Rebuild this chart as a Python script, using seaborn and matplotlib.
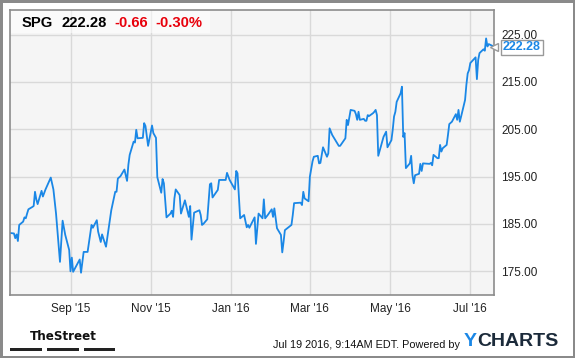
import pandas as pd
import matplotlib.pyplot as plt
import matplotlib.dates as mdates
from matplotlib.patches import Rectangle
import seaborn as sns

# SPG daily close
datas = [
    '2015-07-17', '2015-07-20', '2015-07-21', '2015-07-22', '2015-07-23', '2015-07-24',
    '2015-07-27', '2015-07-28', '2015-07-29', '2015-07-30', '2015-07-31', '2015-08-03',
    '2015-08-04', '2015-08-05', '2015-08-06', '2015-08-07', '2015-08-10', '2015-08-11',
    '2015-08-13', '2015-08-17', '2015-08-19', '2015-08-21', '2015-08-24', '2015-08-26',
    '2015-08-28', '2015-08-31', '2015-09-01', '2015-09-02', '2015-09-03', '2015-09-08',
    '2015-09-09', '2015-09-11', '2015-09-14', '2015-09-17', '2015-09-18', '2015-09-21',
    '2015-09-22', '2015-09-24', '2015-09-25', '2015-09-28', '2015-09-30', '2015-10-02',
    '2015-10-05', '2015-10-06', '2015-10-07', '2015-10-09', '2015-10-12', '2015-10-14',
    '2015-10-15', '2015-10-16', '2015-10-19', '2015-10-20', '2015-10-21', '2015-10-22',
    '2015-10-26', '2015-10-27', '2015-10-28', '2015-10-30', '2015-11-02', '2015-11-03',
    '2015-11-05', '2015-11-06', '2015-11-09', '2015-11-10', '2015-11-11', '2015-11-13',
    '2015-11-16', '2015-11-17', '2015-11-18', '2015-11-19', '2015-11-20', '2015-11-23',
    '2015-11-24', '2015-11-27', '2015-11-30', '2015-12-01', '2015-12-02', '2015-12-04',
    '2015-12-08', '2015-12-09', '2015-12-10', '2015-12-11', '2015-12-14', '2015-12-16',
    '2015-12-17', '2015-12-18', '2015-12-22', '2015-12-23', '2015-12-28', '2015-12-29',
    '2015-12-31', '2016-01-04', '2016-01-05', '2016-01-06', '2016-01-08', '2016-01-11',
    '2016-01-13', '2016-01-14', '2016-01-15', '2016-01-19', '2016-01-20', '2016-01-22',
    '2016-01-25', '2016-01-26', '2016-01-27', '2016-01-29', '2016-02-01', '2016-02-02',
    '2016-02-03', '2016-02-05', '2016-02-08', '2016-02-09', '2016-02-10', '2016-02-11',
    '2016-02-16', '2016-02-17', '2016-02-18', '2016-02-23', '2016-02-24', '2016-02-25',
    '2016-02-26', '2016-02-29', '2016-03-01', '2016-03-03', '2016-03-04', '2016-03-07',
    '2016-03-08', '2016-03-09', '2016-03-11', '2016-03-14', '2016-03-15', '2016-03-16',
    '2016-03-18', '2016-03-23', '2016-03-24', '2016-03-28', '2016-03-29', '2016-03-30',
    '2016-04-01', '2016-04-04', '2016-04-05', '2016-04-06', '2016-04-07', '2016-04-08',
    '2016-04-11', '2016-04-12', '2016-04-13', '2016-04-14', '2016-04-15', '2016-04-18',
    '2016-04-19', '2016-04-20', '2016-04-21', '2016-04-22', '2016-04-25', '2016-04-26',
    '2016-04-28', '2016-04-29', '2016-05-02', '2016-05-03', '2016-05-04', '2016-05-05',
    '2016-05-06', '2016-05-09', '2016-05-10', '2016-05-11', '2016-05-12', '2016-05-13',
    '2016-05-16', '2016-05-17', '2016-05-18', '2016-05-19', '2016-05-20', '2016-05-23',
    '2016-05-24', '2016-05-25', '2016-05-26', '2016-05-31', '2016-06-01', '2016-06-02',
    '2016-06-03', '2016-06-06', '2016-06-07', '2016-06-08', '2016-06-09', '2016-06-10',
    '2016-06-13', '2016-06-14', '2016-06-15', '2016-06-17', '2016-06-20', '2016-06-21',
    '2016-06-22', '2016-06-23', '2016-06-24', '2016-06-27', '2016-06-28', '2016-06-29',
    '2016-06-30', '2016-07-01', '2016-07-05', '2016-07-06', '2016-07-07', '2016-07-08',
    '2016-07-11', '2016-07-12', '2016-07-13', '2016-07-14', '2016-07-15', '2016-07-18',
    '2016-07-19',
]
precos = [
    183.1, 183.0, 182.0, 182.8, 181.4, 184.8,
    185.5, 186.4, 186.2, 187.2, 188.1, 188.6,
    188.8, 191.8, 190.2, 189.2, 192.0, 190.8,
    192.3, 194.8, 192.3, 187.2, 177.0, 185.7,
    182.7, 179.5, 175.0, 177.9, 174.9, 177.5,
    174.7, 179.1, 179.1, 184.8, 184.2, 185.8,
    183.4, 181.2, 182.8, 180.2, 184.1, 187.9,
    191.8, 191.8, 194.6, 195.1, 196.5, 194.1,
    197.5, 199.6, 202.4, 202.2, 204.9, 203.1,
    203.2, 206.3, 205.7, 201.5, 205.8, 204.2,
    203.2, 194.9, 191.6, 194.5, 193.6, 186.4,
    187.2, 187.8, 186.5, 190.4, 192.3, 191.1,
    187.2, 190.0, 186.5, 188.8, 181.7, 187.4,
    187.9, 186.9, 184.8, 185.0, 186.0, 193.4,
    193.6, 190.6, 192.2, 194.3, 194.3, 195.8,
    194.3, 192.3, 196.2, 195.7, 186.2, 186.9,
    184.3, 184.8, 184.2, 186.4, 180.8, 187.2,
    186.2, 190.2, 186.2, 186.9, 188.1, 186.5,
    188.3, 184.1, 182.7, 179.0, 181.2, 183.7,
    184.8, 186.9, 189.4, 189.5, 189.0, 191.8,
    190.4, 189.8, 195.0, 198.2, 199.2, 199.4,
    197.8, 197.9, 201.2, 199.2, 199.9, 205.2,
    203.8, 201.5, 201.5, 203.1, 207.0, 205.9,
    209.1, 208.9, 208.2, 207.0, 208.7, 207.0,
    207.2, 206.8, 206.8, 208.0, 207.8, 208.4,
    208.7, 209.1, 208.0, 199.4, 202.4, 203.4,
    204.5, 201.2, 202.7, 204.9, 207.7, 208.7,
    210.8, 212.6, 214.0, 203.4, 204.2, 196.8,
    197.8, 199.4, 195.3, 193.6, 195.3, 195.6,
    197.7, 196.2, 197.8, 197.7, 197.9, 197.4,
    199.6, 198.9, 198.9, 201.7, 200.3, 201.0,
    201.7, 203.8, 206.1, 206.6, 208.2, 207.0,
    209.1, 206.6, 207.7, 211.2, 214.4, 216.8,
    217.5, 219.0, 220.2, 215.6, 219.7, 221.1,
    221.9, 221.6, 224.2, 222.5, 223.0, 222.6,
    222.28,
]
ticks_y = [175, 185, 195, 205, 215, 225]

df = pd.DataFrame({'data': pd.to_datetime(datas), 'preco': precos})

sns.set_style('whitegrid', {'axes.facecolor': '#f5f5f5', 'grid.color': '#d9d9d9',
                            'axes.edgecolor': '#8c8c8c'})
plt.rcParams['font.family'] = ['Liberation Sans', 'DejaVu Sans']

W, H = 575, 358
fig = plt.figure(figsize=(W / 100, H / 100), dpi=100, linewidth=2.5, edgecolor='#8a8a8a')
ax = fig.add_axes([10 / W, (H - 295) / H, 484 / W, 285 / H])

sns.lineplot(data=df, x='data', y='preco', ax=ax, color='#1a87e6', linewidth=1.3)

ax.set_xlim(df['data'].min(), df['data'].max())
ax.set_ylim(170.0, 230.2)
ax.set_yticks(ticks_y)
ax.set_yticklabels([f'{v:.2f}' for v in ticks_y])
ax.yaxis.tick_right()
ax.xaxis.set_major_locator(mdates.MonthLocator(bymonth=[1, 3, 5, 7, 9, 11]))
ax.xaxis.set_major_formatter(mdates.DateFormatter("%b '%y"))
ax.tick_params(length=0, labelsize=8.5, colors='#222222')
ax.tick_params(axis='y', pad=5)
ax.tick_params(axis='x', pad=6)
ax.set_xlabel('')
ax.set_ylabel('')
ax.grid(True, linewidth=1)
for s in ax.spines.values():
    s.set_linewidth(1.2)


def px(x, y):
    return x / W, 1 - y / H


# header box with ticker and change
ax.add_patch(Rectangle(px(11, 33), 199 / W, 22 / H, transform=fig.transFigure,
                       facecolor='white', alpha=0.5, edgecolor='none', zorder=3))
fig.text(*px(22, 23), 'SPG', fontsize=10.6, fontweight='bold', va='center', color='black')
fig.text(*px(61, 23), '222.28', fontsize=10.6, fontweight='bold', va='center', color='black')
fig.text(*px(114, 23), '-0.66', fontsize=10.6, fontweight='bold', va='center', color='#e8000b')
fig.text(*px(155, 23), '-0.30%', fontsize=10.6, fontweight='bold', va='center', color='#e8000b')

# last price label
ax.plot([df['data'].iloc[-1]], [precos[-1]], marker='<', markersize=6, color='white',
        markeredgecolor='#999999', clip_on=False, zorder=4)
fig.text(*px(503, 47.5), f'{precos[-1]:.2f}', fontsize=9, fontweight='bold', va='center',
         color='#1a87e6',
         bbox=dict(boxstyle='square,pad=0.15', facecolor='white', edgecolor='#999999'))

# footer
fig.text(*px(63, 336), 'TheStreet', family='DejaVu Sans', fontstretch='condensed',
         fontsize=9.5, fontweight='bold', ha='center', va='center', color='#111111')
for x0, x1 in [(10, 42), (47, 79), (84, 115)]:
    fig.patches.append(Rectangle(px(x0, 351), (x1 - x0) / W, 3.5 / H,
                                 transform=fig.transFigure, facecolor='#222222',
                                 edgecolor='none'))
fig.text(*px(460, 345), 'Jul 19 2016, 9:14AM EDT. Powered by', fontsize=7.8,
         ha='right', va='center', color='#111111')
fig.text(*px(464, 342), 'Y', fontsize=14, fontweight='bold', va='center', color='#1a87e6')
fig.text(*px(477, 342), 'CHARTS', fontsize=14, fontweight='bold', va='center', color='#1b2a3a')

fig.savefig('out.png', dpi=100)
